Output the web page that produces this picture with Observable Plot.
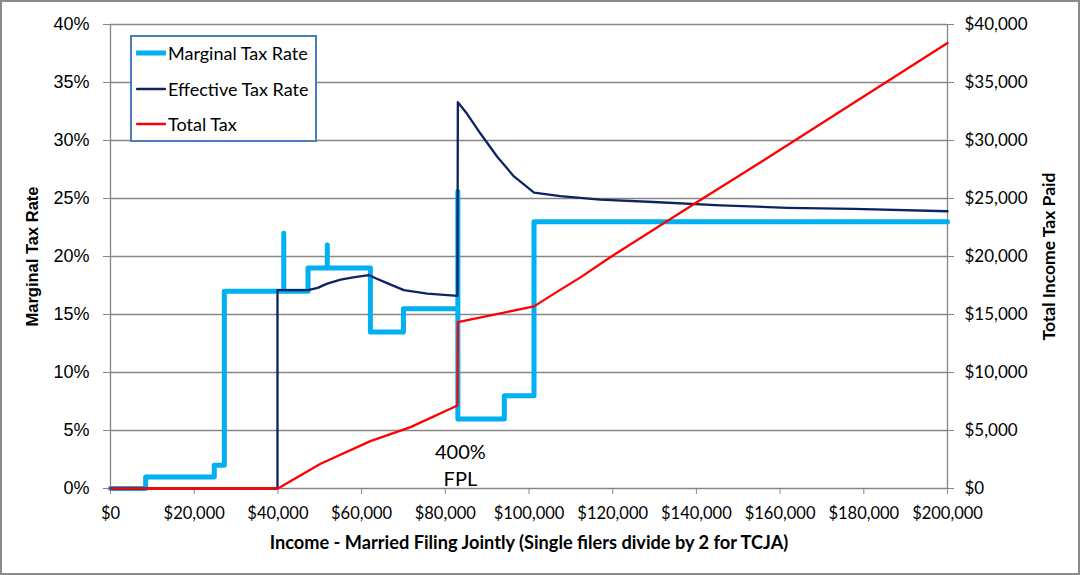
<!DOCTYPE html>
<html><head><meta charset="utf-8">
<script src="https://cdn.jsdelivr.net/npm/d3@7"></script>
<script src="https://cdn.jsdelivr.net/npm/@observablehq/plot@0.6"></script>
<style>
body{margin:0;background:#fff;}
#wrap{position:relative;width:1080px;height:575px;overflow:hidden;background:#fff;}
#frame{position:absolute;left:0;top:0;width:1080px;height:575px;box-sizing:border-box;border:2px solid #8a8a8a;pointer-events:none;}
#legend{position:absolute;left:130px;top:35px;width:187px;height:107px;box-sizing:border-box;border:2px solid #4A7EBB;background:#fff;font-family:Lato,sans-serif;font-size:18px;color:#000;}
#legend .item{position:absolute;left:4px;height:22px;display:flex;align-items:center;white-space:nowrap;}
#legend svg{margin-right:2px;}
</style></head>
<body>
<div id="wrap"><div id="chart"></div><div id="legend"></div><div id="frame"></div></div>
<script>
// ---- data ----
const seriesNames = ["Marginal Tax Rate", "Effective Tax Rate", "Total Tax"];
const seriesColors = ["#00B0F0", "#0C2461", "#FF0000"];

const marginalIncome = [0, 8400, 24800, 27200, 41400, 41400, 47200, 51800, 51800, 62100, 70000, 83000, 83000, 94100, 101200, 200000];
const marginalRate   = [0, 0.01, 0.02, 0.17, 0.22, 0.17, 0.19, 0.21, 0.19, 0.135, 0.155, 0.256, 0.06, 0.08, 0.23, 0.23];

const effectiveIncome = [0, 39900, 39900, 47200, 49500, 51800, 55000, 58000, 61700, 63500, 66100, 70100, 75700, 82900, 83000, 85200, 88400, 92400, 96400, 101200, 107500, 117000, 129800, 145800, 161700, 177600, 200000];
const effectiveRate   = [0, 0, 0.171, 0.171, 0.173, 0.1766, 0.180, 0.182, 0.184, 0.181, 0.177, 0.171, 0.168, 0.166, 0.333, 0.323, 0.306, 0.286, 0.269, 0.255, 0.252, 0.249, 0.247, 0.244, 0.242, 0.241, 0.239];

const taxIncome = [0, 40000, 50200, 62100, 71700, 82900, 83000, 101200, 106000, 112300, 119500, 140200, 156100, 200000];
const taxPaid   = [0, 0, 2130, 4080, 5290, 7160, 14350, 15700, 16800, 18200, 19960, 24700, 28300, 38400];

const xTicks = [0, 20000, 40000, 60000, 80000, 100000, 120000, 140000, 160000, 180000, 200000];
const rateTicks = [0, 0.05, 0.10, 0.15, 0.20, 0.25, 0.30, 0.35, 0.40];
const taxTicks = [0, 5000, 10000, 15000, 20000, 25000, 30000, 35000, 40000];
const annotations = [{label: "400%\nFPL", income: 83600, rate: 0.021}];

const xTitle = "Income - Married Filing Jointly (Single filers divide by 2 for TCJA)";
const yTitle = "Marginal Tax Rate";
const y2Title = "Total Income Tax Paid";

// $40,000 on the right axis lines up with 40% on the left axis
const DOLLARS_PER_UNIT = 100000;

const marginal = marginalIncome.map((x, i) => ({x, y: marginalRate[i]}));
const effective = effectiveIncome.map((x, i) => ({x, y: effectiveRate[i]}));
const total = taxIncome.map((x, i) => ({x, y: taxPaid[i] / DOLLARS_PER_UNIT}));
const fmtMoney = d3.format(",");

const grid = "#868686";
const chart = Plot.plot({
  width: 1080, height: 575,
  marginLeft: 110, marginRight: 133, marginTop: 24, marginBottom: 87,
  style: {fontFamily: "Lato, sans-serif", background: "white", overflow: "visible"},
  x: {domain: [0, 200000]},
  y: {domain: [0, 0.40]},
  marks: [
    Plot.gridY(rateTicks, {stroke: grid, strokeOpacity: 1, strokeWidth: 1.3}),
    Plot.ruleX([0, 200000], {stroke: grid, strokeWidth: 1.3}),
    Plot.axisY(rateTicks, {anchor: "left", tickFormat: d => d3.format(".0%")(d), tickSize: 7, tickPadding: 14,
      stroke: grid, fontSize: 18, fontFamily: "Liberation Sans, Arial, sans-serif",
      label: yTitle, labelAnchor: "center", labelOffset: 84, labelArrow: "none"}),
    Plot.axisY(taxTicks.map(t => t / DOLLARS_PER_UNIT), {anchor: "right", tickFormat: d => "$" + fmtMoney(Math.round(d * DOLLARS_PER_UNIT)),
      tickSize: 6, tickPadding: 11, stroke: grid, fontSize: 17, fontFamily: "Lato, sans-serif",
      label: y2Title, labelAnchor: "center", labelOffset: 107, labelArrow: "none"}),
    Plot.axisX(xTicks, {tickFormat: d => "$" + fmtMoney(d), tickSize: 6, tickPadding: 13, stroke: grid,
      fontSize: 16.5, fontFamily: "Lato, sans-serif",
      label: xTitle, labelAnchor: "center", labelOffset: 60, labelArrow: "none"}),
    Plot.line(marginal, {x: "x", y: "y", curve: "step-after", stroke: seriesColors[0], strokeWidth: 5, strokeLinejoin: "round", strokeLinecap: "round"}),
    Plot.line(effective, {x: "x", y: "y", stroke: seriesColors[1], strokeWidth: 2.3, strokeLinejoin: "round"}),
    Plot.line(total, {x: "x", y: "y", stroke: seriesColors[2], strokeWidth: 2.3, strokeLinejoin: "round"}),
    Plot.text(annotations, {x: "income", y: "rate", text: "label", fontSize: 20, lineHeight: 1.35, fontFamily: "Lato, sans-serif", fill: "#000"})
  ]
});
document.getElementById("chart").appendChild(chart);

// axis titles in bold
const svg = d3.select(chart);
svg.selectAll('g[aria-label="y-axis label"]').attr("font-weight", "bold").attr("font-size", 16.5);
svg.selectAll('g[aria-label="y-axis label"]').filter(function() { return this.textContent.includes("Paid"); }).attr("font-size", 17.5);
svg.selectAll('g[aria-label="x-axis label"]').attr("font-weight", "bold").attr("font-size", 18.2);

// legend
const legend = d3.select("#legend");
const tops = [5, 41, 76];
seriesNames.forEach((name, i) => {
  const item = legend.append("div").attr("class", "item").style("top", tops[i] + "px");
  const s = item.append("svg").attr("width", 30).attr("height", 10);
  s.append("line").attr("x1", 1).attr("x2", 29).attr("y1", 5).attr("y2", 5)
    .attr("stroke", seriesColors[i]).attr("stroke-width", i === 0 ? 5 : 2.3).attr("stroke-linecap", "round");
  item.append("span").text(name);
});
</script>
</body></html>
